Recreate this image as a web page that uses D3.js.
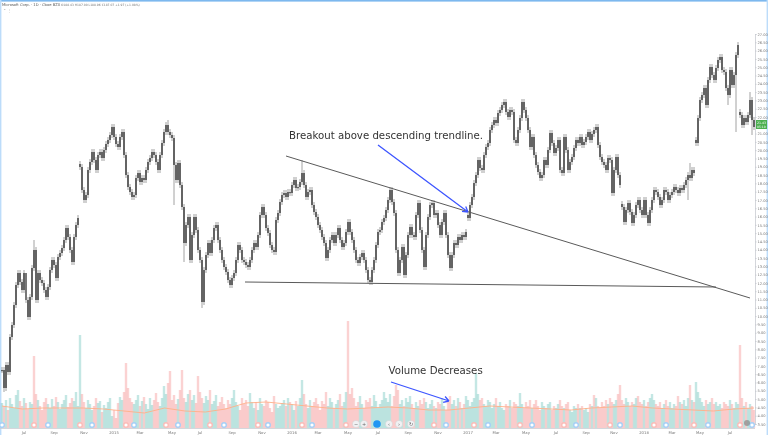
<!DOCTYPE html>
<html><head><meta charset="utf-8">
<script src="https://cdn.jsdelivr.net/npm/d3@7/dist/d3.min.js"></script>
<style>html,body{margin:0;padding:0;background:#fff;overflow:hidden}svg{display:block;filter:blur(.4px)}text{font-family:"DejaVu Sans",sans-serif}</style>
</head><body><svg id="c" width="768" height="435"></svg>
<script>
// All values are estimates from a blurry picture. Turning points and spikes were read from
// crops; bars between them were filled in by eye. Price ticks, header OHLC figures, tag text
// and year labels are not legible in the source and are best guesses.
const closes=[70,52,75,68,103,115,135,155,167,158,150,167,140,123,143,172,190,140,167,160,157,150,143,153,170,180,175,162,183,187,192,200,212,203,190,178,203,215,222,
273,250,240,245,270,278,288,280,270,285,288,282,290,296,300,305,313,303,296,293,303,308,285,265,253,248,243,245,262,267,258,262,260,270,278,282,288,285,278,270,285,297,308,315,308,305,302,275,260,277,255,233,197,215,223,180,205,223,210,190,180,138,170,185,197,187,200,212,215,200,190,180,173,168,160,155,162,167,180,195,190,180,178,175,173,180,190,197,193,205,225,233,225,212,207,195,190,188,220,227,238,245,247,243,248,247,255,260,252,253,258,267,255,243,248,250,235,228,223,215,210,203,197,182,190,200,205,197,205,212,200,193,197,208,218,208,200,190,180,177,183,187,180,170,160,158,170,180,195,208,210,218,222,230,240,250,238,227,190,167,180,193,165,185,205,213,205,203,225,237,210,190,173,205,223,235,237,225,227,215,205,218,227,205,185,172,185,197,195,203,200,205,203,208,
222,235,243,257,265,280,272,270,285,293,297,310,315,320,317,327,330,335,338,328,323,330,328,300,297,310,322,338,330,322,310,293,303,285,275,268,262,265,280,275,290,307,297,287,292,300,270,267,303,290,270,278,283,292,300,297,303,295,298,303,308,300,306,310,313,295,283,278,275,270,282,280,247,270,283,265,255,
233,218,230,237,228,217,225,235,240,230,225,240,225,217,230,240,250,248,243,235,240,250,248,240,245,248,253,250,247,252,250,255,260,265,262,270,267,297,322,340,345,352,335,360,373,365,360,372,380,383,370,368,352,345,370,355,365,385,395,325,315,322,318,325,340,320,313];
const gapBars=[39,233,310,347,369];
const highWicks=[[16,200],[150,280],[344,277],[374,348],[12,140],[83,320]];
const lowWicks=[[100,132],[91,178],[86,235],[367,308],[375,305],[363,335],[343,240],[1,48]];
const volumes=[25,22,28,18,30,24,20,33,38,27,22,30,25,19,26,24,72,34,28,22,
18,26,30,24,20,29,22,31,26,19,24,28,33,21,25,30,27,36,22,93,
34,26,20,28,24,18,22,30,25,27,16,23,20,26,30,12,18,10,25,31,
28,36,65,40,30,26,24,28,33,22,27,31,24,19,30,23,28,35,26,22,
30,42,34,45,57,28,33,24,29,38,58,30,26,34,38,28,33,25,52,36,
30,25,32,28,38,24,27,33,22,26,31,24,20,28,24,30,38,26,22,18,
30,24,28,22,35,26,20,26,18,30,24,22,28,26,20,16,32,24,20,22,
25,28,22,30,26,24,18,27,22,30,48,34,24,20,28,22,26,30,24,18,
27,24,36,22,30,26,20,24,28,34,22,26,36,107,34,40,30,22,26,32,
24,20,28,26,30,22,33,27,20,24,28,36,30,26,34,22,32,43,38,24,
28,22,30,26,32,24,20,26,22,28,24,30,26,20,24,28,22,20,26,24,
30,22,18,26,32,24,28,22,30,26,20,24,32,28,22,26,30,55,34,28,
30,24,22,28,26,20,24,30,22,26,20,18,24,22,28,20,26,24,22,35,
24,20,26,22,28,20,24,28,22,18,26,22,20,24,26,18,22,20,24,28,
22,20,24,26,18,16,22,20,24,20,22,18,20,16,24,22,33,30,22,20,
26,22,28,24,30,26,24,28,34,43,28,24,30,26,22,26,24,30,32,26,
24,28,22,26,30,34,28,24,22,26,20,24,28,22,26,20,24,22,32,26,
24,28,22,30,43,28,26,46,36,30,26,22,28,24,26,30,24,26,22,24,
20,26,24,22,28,24,20,26,24,83,30,22,26,20,24,22,18];
const pinkSpikes=[16,62,84,90,98,173,175,197,296,304,309,318,338,344,369];
const tealSpikes=[8,39,116,150,237,259,325,347];
const volumeMA=[22,19,20,20,20,19,17,15,20,17,16,19,25,26,24,22,20,19,20,21,20,18,18,20,22,21,20,19,18,20,21,22,20,19,18,17,19,20];
const monthLabels=["Jul","Sep","Nov","2015","Mar","May","Jul","Sep","Nov","2016","Mar","May","Jul","Sep","Nov","2017","Mar","May","Jul","Sep","Nov","2018","Mar","May","Jul"];
const monthBars=[11,26,41,56,69,85,99,115,130,145,158,173,188,203,218,233,247,262,277,292,306,321,335,349,364];
const trendDesc=[[142,284],[374,142]];
const trendFlat=[[121.5,158],[357,153]];
const earnings=[16,39,62,82,104,128,150,172,216,236,259,281,304,326,346,369];
const dividends=[0,23,45,66,88,111,133,155,222,243,265,287,309,332,353,375];

const svg=d3.select("#c");
const x=d3.scaleLinear().domain([0,376]).range([2,754]);
const y=d3.scaleLinear().domain([0,440]).range([440,0]);
const yPrice=d3.scaleLinear().domain([3.5,27]).range([424,34]);
const yVol=d3.scaleLinear().domain([0,107]).range([428,321]);

svg.append("rect").attr("x",0).attr("y",0).attr("width",768).attr("height",1.6).attr("fill","#7db8ee");
svg.append("rect").attr("x",0).attr("y",0).attr("width",1.4).attr("height",435).attr("fill","#bcdcfa");
svg.append("rect").attr("x",766.6).attr("y",0).attr("width",1.4).attr("height",435).attr("fill","#bcdcfa");

svg.append("text").attr("x",2).attr("y",6).attr("font-size",3.7).attr("fill","#555").text("Microsoft Corp. · 1D · Cboe BZX");
svg.append("text").attr("x",61).attr("y",6).attr("font-size",3).attr("fill","#777").text("O188.43 H187.00 L188.96 C187.07 +1.97 (+1.08%)");
svg.append("text").attr("x",3).attr("y",12).attr("font-size",4).attr("fill","#999").text("⌃ ⋮");

volumes.forEach((v,i)=>{
  const up=tealSpikes.includes(i)||(!pinkSpikes.includes(i)&&(i==0||closes[i]>=closes[i-1]));
  svg.append("rect").attr("x",x(i)-1.2).attr("width",2.4).attr("y",yVol(v)).attr("height",yVol(0)-yVol(v))
    .attr("fill",up?"#26a69a":"#ef5350").attr("opacity",up?.27:.26);
});
svg.append("path").datum(volumeMA).attr("fill","none").attr("stroke","#ffb088").attr("stroke-width",.9)
 .attr("d",d3.line().x((d,i)=>x(i*376/(volumeMA.length-1))).y(d=>yVol(d)));

const hi=new Map(highWicks),lo=new Map(lowWicks);
closes.forEach((c,i)=>{
  const o=(i===0||gapBars.includes(i))?c+(i===0?0:3):closes[i-1];
  const top=Math.max(o,c),bot=Math.min(o,c);
  const H=hi.get(i)??top+3,L=lo.get(i)??bot-3;
  svg.append("line").attr("x1",x(i)).attr("x2",x(i)).attr("y1",y(H)).attr("y2",y(L)).attr("stroke","#8a8a8a").attr("stroke-width",.8);
  svg.append("rect").attr("x",x(i)-.6).attr("width",1.2).attr("y",y(top)).attr("height",Math.max(1.2,y(bot)-y(top)))
    .attr("fill","#1e1e1e");
});

const axis=svg.append("g").attr("transform","translate(755,0)")
 .call(d3.axisRight(yPrice).tickValues(d3.range(3.5,27.01,.5).filter(t=>yPrice(t)<117||yPrice(t)>131)).tickSize(1.5).tickFormat(d3.format(".2f")));
axis.selectAll("path").attr("stroke","#c9ccd2").attr("stroke-width",.8);
axis.selectAll("line").attr("stroke","#c9ccd2");
axis.selectAll("text").attr("font-size",3.6).attr("fill","#777").attr("x",2.5);

svg.append("line").attr("x1",0).attr("x2",755).attr("y1",428.5).attr("y2",428.5).attr("stroke","#c9ccd2").attr("stroke-width",.8);
monthLabels.forEach((m,i)=>svg.append("text").attr("x",x(monthBars[i])).attr("y",433.5).attr("text-anchor","middle")
  .attr("font-size",3.8).attr("fill","#777").text(m));

earnings.forEach(i=>svg.append("circle").attr("cx",x(i)).attr("cy",425).attr("r",2.3).attr("fill","#fff").attr("stroke","#fbbdb9").attr("stroke-width",1.4));
dividends.forEach(i=>svg.append("circle").attr("cx",x(i)).attr("cy",425).attr("r",2.3).attr("fill","#fff").attr("stroke","#a6d0f7").attr("stroke-width",1.4));

[[356,"−"],[364,"+"],[389,"‹"],[399,"›"],[411,"↻"]].forEach(([cx,t])=>{
  svg.append("circle").attr("cx",cx).attr("cy",424).attr("r",3.6).attr("fill","#f0f1f3").attr("stroke","#ccc").attr("stroke-width",.4);
  svg.append("text").attr("x",cx).attr("y",425.8).attr("text-anchor","middle").attr("font-size",5).attr("fill","#666").text(t);
});
svg.append("circle").attr("cx",377).attr("cy",424).attr("r",3.8).attr("fill","#2196f3");
svg.append("circle").attr("cx",747).attr("cy",423).attr("r",3).attr("fill","#888").attr("opacity",.7);

[trendDesc,trendFlat].forEach(t=>svg.append("line")
  .attr("x1",x(t[0][0])).attr("y1",y(t[0][1])).attr("x2",x(t[1][0])).attr("y2",y(t[1][1]))
  .attr("stroke","#5a5a5a").attr("stroke-width",1));

function arrow(a,b){
  const ang=Math.atan2(b[1]-a[1],b[0]-a[0]),L=6;
  const p=d3.path();p.moveTo(a[0],a[1]);p.lineTo(b[0],b[1]);
  [ang+2.6,ang-2.6].forEach(t=>{p.moveTo(b[0],b[1]);p.lineTo(b[0]+L*Math.cos(t),b[1]+L*Math.sin(t));});
  svg.append("path").attr("d",p.toString()).attr("fill","none").attr("stroke","#3d55ff").attr("stroke-width",1.3);
}
arrow([378,145],[468,212]);
arrow([391,382],[449,401]);
svg.append("text").attr("x",289).attr("y",139).attr("font-size",10.2).attr("fill","#333").text("Breakout above descending trendline.");
svg.append("text").attr("x",388.5).attr("y",374).attr("font-size",10.2).attr("fill","#333").text("Volume Decreases");

svg.append("rect").attr("x",756).attr("y",120).attr("width",11).attr("height",9).attr("fill","#4caf50");
svg.append("text").attr("x",757).attr("y",123.8).attr("font-size",3.2).attr("fill","#fff").text("21.43");
svg.append("text").attr("x",757).attr("y",127.9).attr("font-size",3).attr("fill","#fff").text("05:10");
</script></body></html>
